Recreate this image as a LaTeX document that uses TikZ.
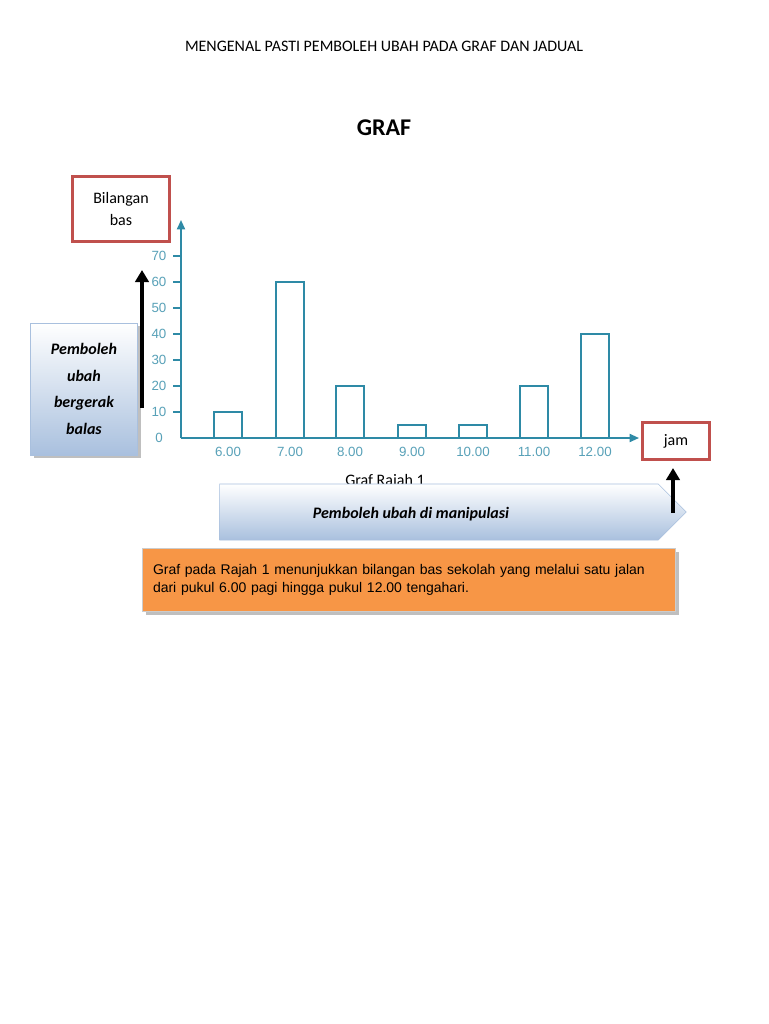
\documentclass[tikz,border=0pt]{standalone}
\usepackage{fontspec}
\setmainfont{Carlito}
\newfontfamily\arial{Liberation Sans}
\usetikzlibrary{arrows.meta,positioning,shapes.arrows,shadows}
\definecolor{axisblue}{HTML}{2E8AA6}
\definecolor{boxred}{HTML}{C0504D}
\definecolor{fillorange}{HTML}{F79646}
\definecolor{pale}{HTML}{A9C0DE}
\tikzset{
  axis/.style={axisblue, line width=1.3pt, -{Triangle[length=7pt,width=6pt]}},
  bar/.style={draw=axisblue, line width=1.2pt, fill=white},
  tick/.style={font=\arial\fontsize{10}{12}\selectfont, text=axisblue!80},
  redbox/.style={draw=boxred, line width=1.8pt, align=center, font=\fontsize{12}{16}\selectfont},
  blackarrow/.style={line width=3pt, -{Triangle[length=9pt,width=10pt]}},
}
\begin{document}
\begin{tikzpicture}[x=0.75pt,y=-0.75pt]
    \useasboundingbox (0,0) rectangle (768,1024);
    \fill[white] (0,0) rectangle (768,1024);
    \node (title) at (384,46) {\fontsize{12}{14}\selectfont MENGENAL PASTI PEMBOLEH UBAH PADA GRAF DAN JADUAL};
    \node[font=\bfseries\fontsize{18}{22}\selectfont] (graf) at (384,128) {GRAF};

    % axes
    \coordinate (o) at (181,438);
    \coordinate (ytop) at (181,220);
    \coordinate (xend) at (639,438);
    \draw[axis] (o) -- (ytop);
    \draw[axis] (o) -- (xend);
    \foreach \v in {1,...,7}
        \draw[axisblue, line width=1pt] (173,438-26*\v) -- (181,438-26*\v);
    \foreach \v in {0,...,7}
        \node[tick] (t\v) at (159,438-26*\v) {\pgfmathparse{int(10*\v)}\pgfmathresult};

    % bars
    \foreach \x/\h/\l [count=\i] in {228/10/6.00, 290/60/7.00, 350/20/8.00, 412/5/9.00,
                                     473/5/10.00, 534/20/11.00, 595/40/12.00} {
        \draw[bar] (\x-14,438) rectangle (\x+14,438-2.6*\h);
        \node[tick] (b\i) at (\x,452) {\l};
    }

    \node[redbox, minimum width=73pt, minimum height=49pt] (bil) at (121,209) {Bilangan\\bas};
    \node[redbox, minimum width=50pt, minimum height=28pt] (jam) at (676,441) {jam};
    \node[font=\fontsize{12}{14}\selectfont] (rajah) at (385,481) {Graf Rajah 1};

    % manipulated variable arrow
    \node[single arrow, draw=pale, top color=white, bottom color=pale,
          minimum width=42pt, single arrow head extend=0pt,
          single arrow head indent=0pt, minimum height=350pt,
          inner sep=0pt] (manip) at (439,512) {};
    \node[font=\bfseries\itshape\fontsize{12}{14}\selectfont] (manipt) at (411,514) {Pemboleh ubah di manipulasi};

    % responding variable box
    \node[draw=pale, top color=white, bottom color=pale, drop shadow,
          minimum width=80pt, minimum height=99pt, align=center,
          font=\bfseries\itshape\fontsize{12}{20}\selectfont] (resp) at (84,389)
          {Pemboleh\\ubah\\bergerak\\balas};

    \coordinate (up1) at (142,270);
    \coordinate (up1s) at (142,408);
    \draw[blackarrow] (up1s) -- (up1);
    \coordinate (up2) at (673,468);
    \coordinate (up2s) at (673,513);
    \draw[blackarrow] (up2s) -- (up2);

    \node[fill=fillorange, draw=black!20, drop shadow, minimum width=400pt, minimum height=47pt,
          text width=384pt, align=left, font=\arial\fontsize{10.5}{13}\selectfont] (info) at (409,580)
          {Graf pada Rajah 1 menunjukkan bilangan bas sekolah yang melalui satu jalan dari pukul 6.00 pagi hingga pukul 12.00 tengahari.};
\end{tikzpicture}
\end{document}
